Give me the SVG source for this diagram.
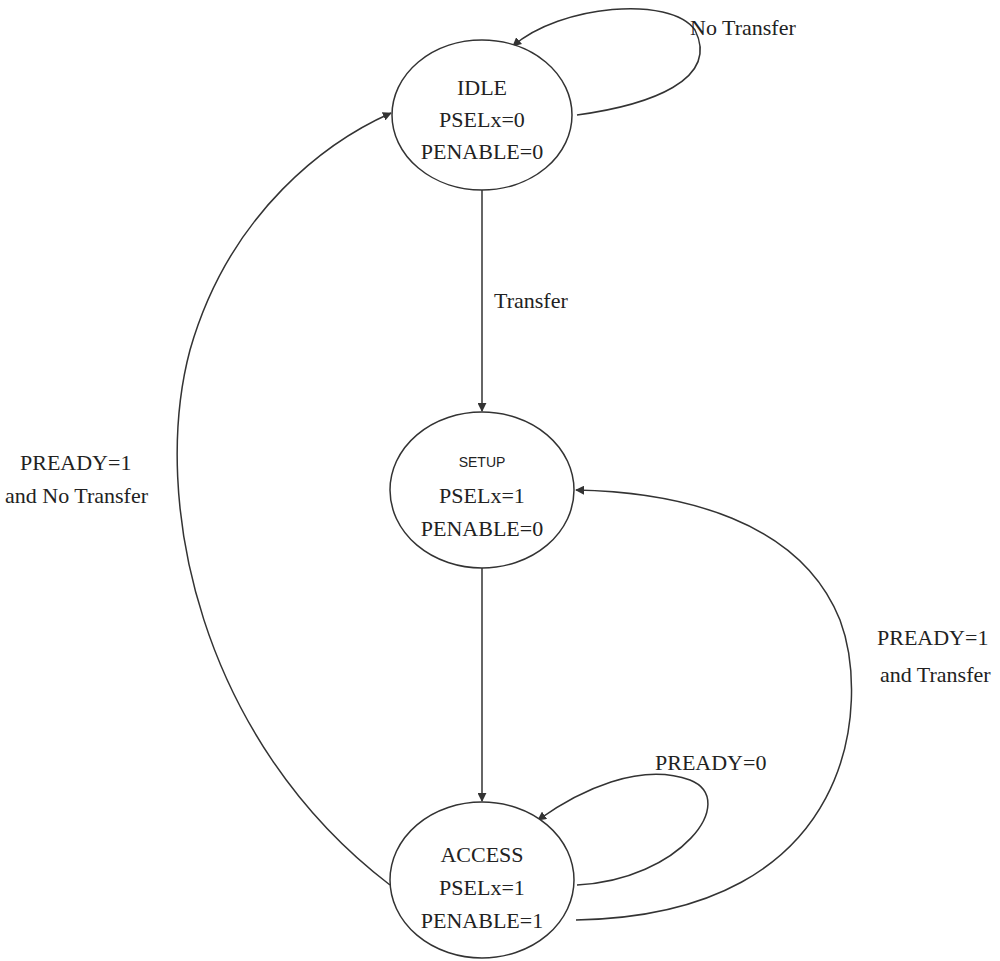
<svg xmlns="http://www.w3.org/2000/svg" width="1000" height="961" viewBox="0 0 1000 961">
<defs>
<style>
text{font-family:"Liberation Serif",serif;font-size:22px;fill:#222}
.n ellipse{fill:#fff;stroke:#333;stroke-width:1.5}
.c path{fill:none;stroke:#333;stroke-width:1.5;marker-end:url(#a)}
</style>
<marker id="a" viewBox="0 0 10 10" refX="9" refY="5" markerWidth="9" markerHeight="9" orient="auto" markerUnits="userSpaceOnUse"><path d="M0,0L10,5L0,10z" fill="#333"/></marker>
</defs>
<rect width="1000" height="961" fill="#fff"/>
<g class="c" id="connectors">
<path d="M577,115 C650,105 720,80 695,30 C670,-5 560,5 513,46"/>
<path d="M482,190 L482,411"/>
<path d="M482,568 L482,801"/>
<path d="M577,885 C680,880 740,800 690,780 C640,762 580,790 538,820"/>
<path d="M576,920 C860,915 870,700 840,620 C800,520 680,492 576,490"/>
<path d="M390,885 C200,740 150,500 190,350 C230,210 330,140 391,113"/>
</g>
<g class="n" id="idle"><ellipse cx="482" cy="115" rx="90" ry="75"/>
<text x="482" y="95" text-anchor="middle">IDLE</text>
<text x="482" y="127" text-anchor="middle">PSELx=0</text>
<text x="482" y="159" text-anchor="middle">PENABLE=0</text></g>
<g class="n" id="setup"><ellipse cx="482" cy="490" rx="92" ry="78"/>
<text x="482" y="467" text-anchor="middle" style="font-family:'Liberation Sans',sans-serif;font-size:14px">SETUP</text>
<text x="482" y="503" text-anchor="middle">PSELx=1</text>
<text x="482" y="536" text-anchor="middle">PENABLE=0</text></g>
<g class="n" id="access"><ellipse cx="482" cy="880" rx="92" ry="78"/>
<text x="482" y="862" text-anchor="middle">ACCESS</text>
<text x="482" y="895" text-anchor="middle">PSELx=1</text>
<text x="482" y="928" text-anchor="middle">PENABLE=1</text></g>
<g id="labels">
<text x="690" y="35">No Transfer</text>
<text x="494" y="308">Transfer</text>
<text x="20" y="470">PREADY=1</text>
<text x="5" y="503">and No Transfer</text>
<text x="877" y="645">PREADY=1</text>
<text x="880" y="682">and Transfer</text>
<text x="655" y="770">PREADY=0</text>
</g>
</svg>
